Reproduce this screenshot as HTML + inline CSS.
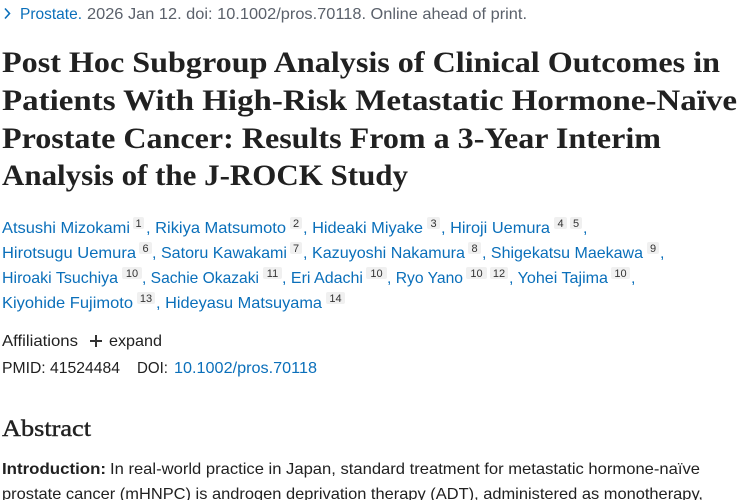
<!DOCTYPE html>
<html>
<head>
<meta charset="utf-8">
<style>
  html, body { margin: 0; padding: 0; background: #ffffff; }
  body { width: 750px; height: 500px; overflow: hidden; }
  svg { display: block; }
  .sans { font-family: "Liberation Sans", "DejaVu Sans", sans-serif; }
  .serif { font-family: "Liberation Serif", "DejaVu Serif", serif; }
  .link { fill: #0a6fba; }
  .dark { fill: #212121; }
  .gray { fill: #5b616b; }
  .supbox { fill: #f0f0f0; }
  .sup { font-family: "Liberation Sans", sans-serif; font-size: 11px; fill: #333333; }
</style>
</head>
<body>
<svg width="750" height="500" viewBox="0 0 750 500" xmlns="http://www.w3.org/2000/svg">
  <rect width="750" height="500" fill="#ffffff"/>

  <!-- Top citation line -->
  <polyline points="5,8.5 9.5,13.5 5,18.5" fill="none" stroke="#0a6fba" stroke-width="1.6"/>
  <text class="sans link" x="20" y="19" font-size="16" textLength="62" lengthAdjust="spacingAndGlyphs">Prostate.</text>
  <text class="sans gray" x="87" y="19" font-size="16" textLength="440" lengthAdjust="spacingAndGlyphs">2026 Jan 12. doi: 10.1002/pros.70118. Online ahead of print.</text>

  <!-- Title -->
  <g class="serif dark" font-size="30" font-weight="bold">
    <text x="2" y="72" textLength="718" lengthAdjust="spacingAndGlyphs">Post Hoc Subgroup Analysis of Clinical Outcomes in</text>
    <text x="2" y="110" textLength="735" lengthAdjust="spacingAndGlyphs">Patients With High-Risk Metastatic Hormone-Naïve</text>
    <text x="2" y="148" textLength="659" lengthAdjust="spacingAndGlyphs">Prostate Cancer: Results From a 3-Year Interim</text>
    <text x="2" y="185" textLength="406" lengthAdjust="spacingAndGlyphs">Analysis of the J-ROCK Study</text>
  </g>

  <!-- Authors line 1 -->
  <g class="sans link" font-size="16">
    <text x="2" y="233" textLength="128" lengthAdjust="spacingAndGlyphs">Atsushi Mizokami</text>
    <text x="146" y="233" textLength="140" lengthAdjust="spacingAndGlyphs">, Rikiya Matsumoto</text>
    <text x="303" y="233" textLength="120" lengthAdjust="spacingAndGlyphs">, Hideaki Miyake</text>
    <text x="441" y="233" textLength="109" lengthAdjust="spacingAndGlyphs">, Hiroji Uemura</text>
    <text x="583" y="233">,</text>
  </g>
  <g>
    <rect class="supbox" x="133" y="217" width="11" height="12" rx="2"/><text class="sup" x="138.5" y="227" text-anchor="middle">1</text>
    <rect class="supbox" x="290" y="217" width="12" height="12" rx="2"/><text class="sup" x="296" y="227" text-anchor="middle">2</text>
    <rect class="supbox" x="427" y="217" width="13" height="12" rx="2"/><text class="sup" x="433.5" y="227" text-anchor="middle">3</text>
    <rect class="supbox" x="554" y="217" width="13" height="12" rx="2"/><text class="sup" x="560.5" y="227" text-anchor="middle">4</text>
    <rect class="supbox" x="570" y="217" width="12" height="12" rx="2"/><text class="sup" x="576" y="227" text-anchor="middle">5</text>
  </g>

  <!-- Authors line 2 -->
  <g class="sans link" font-size="16">
    <text x="2" y="258" textLength="134" lengthAdjust="spacingAndGlyphs">Hirotsugu Uemura</text>
    <text x="152" y="258" textLength="135" lengthAdjust="spacingAndGlyphs">, Satoru Kawakami</text>
    <text x="303" y="258" textLength="162" lengthAdjust="spacingAndGlyphs">, Kazuyoshi Nakamura</text>
    <text x="482" y="258" textLength="161" lengthAdjust="spacingAndGlyphs">, Shigekatsu Maekawa</text>
    <text x="660" y="258">,</text>
  </g>
  <g>
    <rect class="supbox" x="139" y="242" width="13" height="12" rx="2"/><text class="sup" x="145.5" y="252" text-anchor="middle">6</text>
    <rect class="supbox" x="290" y="242" width="12" height="12" rx="2"/><text class="sup" x="296" y="252" text-anchor="middle">7</text>
    <rect class="supbox" x="468" y="242" width="13" height="12" rx="2"/><text class="sup" x="474.5" y="252" text-anchor="middle">8</text>
    <rect class="supbox" x="647" y="242" width="12" height="12" rx="2"/><text class="sup" x="653" y="252" text-anchor="middle">9</text>
  </g>

  <!-- Authors line 3 -->
  <g class="sans link" font-size="16">
    <text x="2" y="283" textLength="116" lengthAdjust="spacingAndGlyphs">Hiroaki Tsuchiya</text>
    <text x="142" y="283" textLength="117" lengthAdjust="spacingAndGlyphs">, Sachie Okazaki</text>
    <text x="282" y="283" textLength="81" lengthAdjust="spacingAndGlyphs">, Eri Adachi</text>
    <text x="387" y="283" textLength="76" lengthAdjust="spacingAndGlyphs">, Ryo Yano</text>
    <text x="509" y="283" textLength="99" lengthAdjust="spacingAndGlyphs">, Yohei Tajima</text>
    <text x="631" y="283">,</text>
  </g>
  <g>
    <rect class="supbox" x="122" y="267" width="20" height="12" rx="2"/><text class="sup" x="132" y="277" text-anchor="middle">10</text>
    <rect class="supbox" x="263" y="267" width="19" height="12" rx="2"/><text class="sup" x="272.5" y="277" text-anchor="middle">11</text>
    <rect class="supbox" x="366" y="267" width="21" height="12" rx="2"/><text class="sup" x="376.5" y="277" text-anchor="middle">10</text>
    <rect class="supbox" x="466" y="267" width="21" height="12" rx="2"/><text class="sup" x="476.5" y="277" text-anchor="middle">10</text>
    <rect class="supbox" x="490" y="267" width="18" height="12" rx="2"/><text class="sup" x="499" y="277" text-anchor="middle">12</text>
    <rect class="supbox" x="611" y="267" width="19" height="12" rx="2"/><text class="sup" x="620.5" y="277" text-anchor="middle">10</text>
  </g>

  <!-- Authors line 4 -->
  <g class="sans link" font-size="16">
    <text x="2" y="308" textLength="131" lengthAdjust="spacingAndGlyphs">Kiyohide Fujimoto</text>
    <text x="156" y="308" textLength="166" lengthAdjust="spacingAndGlyphs">, Hideyasu Matsuyama</text>
  </g>
  <g>
    <rect class="supbox" x="137" y="292" width="18" height="12" rx="2"/><text class="sup" x="146" y="302" text-anchor="middle">13</text>
    <rect class="supbox" x="326" y="292" width="19" height="12" rx="2"/><text class="sup" x="335.5" y="302" text-anchor="middle">14</text>
  </g>

  <!-- Affiliations -->
  <text class="sans dark" x="2" y="346" font-size="16" textLength="76" lengthAdjust="spacingAndGlyphs">Affiliations</text>
  <line x1="90" y1="341" x2="102" y2="341" stroke="#333" stroke-width="2"/>
  <line x1="96" y1="335" x2="96" y2="347" stroke="#333" stroke-width="2"/>
  <text class="sans dark" x="109" y="346" font-size="16" textLength="53" lengthAdjust="spacingAndGlyphs">expand</text>

  <!-- PMID / DOI -->
  <text class="sans dark" x="2" y="373" font-size="16" textLength="118" lengthAdjust="spacingAndGlyphs">PMID: 41524484</text>
  <text class="sans dark" x="137" y="373" font-size="16" textLength="31" lengthAdjust="spacingAndGlyphs">DOI:</text>
  <text class="sans link" x="174" y="373" font-size="16" textLength="143" lengthAdjust="spacingAndGlyphs">10.1002/pros.70118</text>

  <!-- Abstract heading -->
  <text class="serif dark" x="2" y="436" font-size="23" stroke="#212121" stroke-width="0.4" textLength="89" lengthAdjust="spacingAndGlyphs">Abstract</text>

  <!-- Abstract body -->
  <text class="sans dark" x="2" y="474" font-size="16" font-weight="bold" textLength="104" lengthAdjust="spacingAndGlyphs">Introduction:</text>
  <text class="sans dark" x="110" y="474" font-size="16" textLength="590" lengthAdjust="spacingAndGlyphs">In real-world practice in Japan, standard treatment for metastatic hormone-naïve</text>
  <text class="sans dark" x="2" y="499" font-size="16" textLength="701" lengthAdjust="spacingAndGlyphs">prostate cancer (mHNPC) is androgen deprivation therapy (ADT), administered as monotherapy,</text>
</svg>
</body>
</html>
